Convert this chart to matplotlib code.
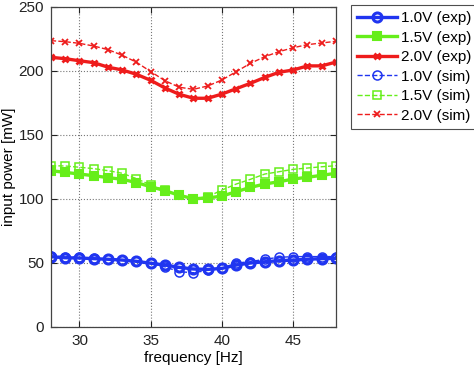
import matplotlib
matplotlib.use("Agg")
import matplotlib.pyplot as plt

plt.rcParams["font.family"] = ["Liberation Sans", "DejaVu Sans"]

freq = list(range(28, 49))

p10_exp = [54.9, 54.1, 53.9, 53.4, 52.9, 52.3, 51.3, 49.8, 48.4, 46.6, 45.3,
           45.0, 45.8, 48.4, 50.0, 51.0, 51.8, 52.3, 52.9, 53.4, 53.6]
p15_exp = [122.1, 120.8, 119.5, 118.2, 116.7, 115.4, 112.8, 109.6, 106.5, 102.9, 100.2,
           100.8, 102.3, 105.7, 109.1, 111.7, 113.5, 115.6, 117.0, 118.5, 120.1]
p20_exp = [210.7, 209.6, 208.0, 206.5, 203.0, 200.8, 197.4, 192.7, 186.7, 181.8, 178.7,
           178.7, 182.0, 186.2, 190.4, 195.0, 199.0, 200.8, 204.0, 204.0, 207.0]

p10_sim = [55.4, 55.0, 54.4, 53.8, 53.2, 52.3, 51.3, 49.8, 47.0, 43.2, 42.4,
           44.3, 45.8, 50.0, 51.0, 53.0, 54.4, 55.0, 55.0, 55.0, 55.0]
p15_sim = [126.0, 125.8, 124.8, 123.7, 122.1, 120.1, 115.9, 110.9, 107.0, 102.9, 100.2,
           101.8, 107.0, 111.7, 115.4, 119.5, 121.3, 123.2, 124.2, 125.2, 126.0]
p20_sim = [223.7, 222.9, 221.6, 219.5, 216.7, 212.3, 206.8, 199.5, 192.4, 187.3, 185.7,
           188.3, 193.0, 199.5, 206.0, 211.2, 215.1, 218.2, 220.6, 221.9, 223.2]

BLUE = "#2035f0"
GREEN = "#66ee1a"
RED = "#ee1c1c"

fig = plt.figure(figsize=(4.74, 3.66), dpi=100)
ax = fig.add_axes([51 / 474, 1 - 327 / 366, 285 / 474, 320 / 366])

ax.plot(freq, p10_exp, "-o", color=BLUE, lw=2.4, ms=6.5, mfc="none", mew=2.2,
        label="1.0V (exp)")
ax.plot(freq, p15_exp, "-s", color=GREEN, lw=2.4, ms=5.5, mew=1.5,
        label="1.5V (exp)")
ax.plot(freq, p20_exp, "-x", color=RED, lw=2.4, ms=5, mew=2,
        label="2.0V (exp)")
ax.plot(freq, p10_sim, "--o", color=BLUE, lw=1, ms=6.5, mfc="none", mew=1.1,
        label="1.0V (sim)")
ax.plot(freq, p15_sim, "--s", color=GREEN, lw=1, ms=5.5, mfc="none", mew=1.1,
        label="1.5V (sim)")
ax.plot(freq, p20_sim, "--x", color=RED, lw=1, ms=5, mew=1.3,
        label="2.0V (sim)")

ax.set_xlim(28, 48)
ax.set_ylim(0, 250)
ax.set_xticks([30, 35, 40, 45])
ax.set_yticks([0, 50, 100, 150, 200, 250])
ax.grid(True, linestyle=":", color="#777777", linewidth=0.8)
ax.tick_params(direction="in", top=True, right=True, labelsize=11, length=4,
               colors="#222222", pad=5)
for s in ax.spines.values():
    s.set_color("#444444")
    s.set_linewidth(0.9)
ax.set_xlabel("frequency [Hz]", fontsize=11, labelpad=2)
ax.set_ylabel("input power [mW]", fontsize=11, labelpad=2)

leg = ax.legend(loc="upper left", bbox_to_anchor=(351 / 474, 1 - 5 / 366),
                bbox_transform=fig.transFigure, fontsize=11, frameon=True,
                fancybox=False, edgecolor="#222222", borderpad=0.4,
                labelspacing=0.36, handlelength=2.6, handletextpad=0.3,
                borderaxespad=0)
leg.get_frame().set_linewidth(0.8)

fig.savefig("out.png", dpi=100)
